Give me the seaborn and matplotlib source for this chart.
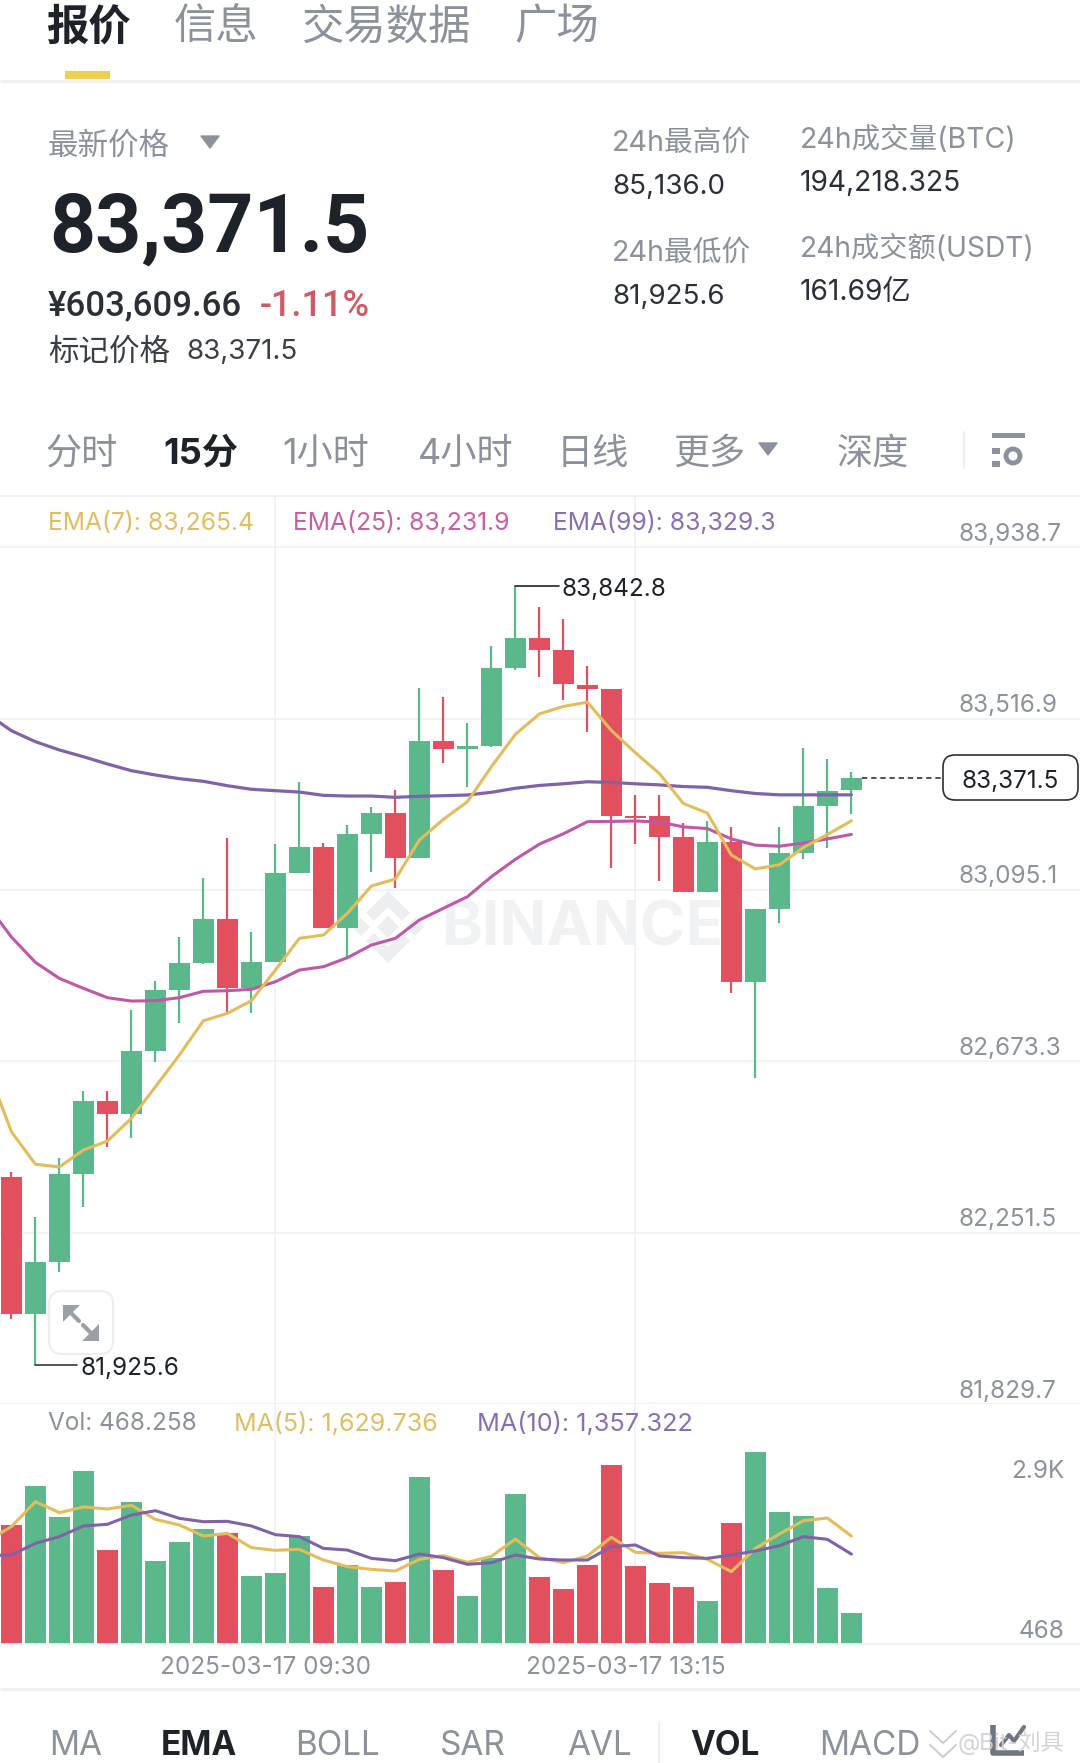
import matplotlib
matplotlib.use("Agg")
import matplotlib.pyplot as plt
from matplotlib.patches import FancyBboxPatch, Polygon, Circle, Rectangle
import numpy as np
import pandas as pd
import seaborn as sns

# candles, 15 min, oldest first
opens = [82388.4, 82050.4, 82179.9, 82396.5, 82575.5, 82542.8, 82699.4, 82848.8, 82916.1, 83023.6,
         82853.0, 82918.5, 83136.1, 83200.0, 83002.2, 83232.9, 83285.3, 83173.8, 83461.8, 83441.4,
         83450.6, 83641.6, 83715.4, 83686.0, 83599.6, 83589.8, 83277.5, 83276.0, 83225.0, 83089.3,
         83213.8, 82869.7, 83047.7, 83186.0, 83303.0, 83341.2]
closes = [82050.4, 82179.9, 82396.5, 82575.5, 82542.8, 82699.4, 82848.8, 82916.1, 83023.6, 82853.0,
          82918.5, 83136.1, 83200.0, 83002.2, 83232.9, 83285.3, 83173.8, 83461.8, 83441.4, 83449.0,
          83640.7, 83715.4, 83686.0, 83601.4, 83589.8, 83277.5, 83271.5, 83226.7, 83089.3, 83213.0,
          82869.7, 83047.7, 83185.0, 83301.3, 83339.5, 83371.5]
highs = [82401.5, 82290.7, 82434.5, 82599.4, 82599.4, 82799.6, 82871.7, 82980.1, 83124.6, 83222.3,
         82991.6, 83208.3, 83360.2, 83210.0, 83255.0, 83300.1, 83341.2, 83593.0, 83570.9, 83506.9,
         83695.7, 83842.8, 83791.2, 83761.7, 83646.5, 83589.8, 83328.4, 83328.4, 83259.0, 83264.8,
         83250.4, 83047.7, 83250.4, 83443.6, 83418.2, 83386.0]
lows = [82038.1, 81925.6, 82155.3, 82315.3, 82463.0, 82483.7, 82671.6, 82766.8, 82912.8, 82795.4,
        82791.5, 82918.5, 83136.1, 83002.2, 82930.8, 83138.9, 83099.2, 83173.8, 83407.0, 83349.3,
        83446.6, 83635.7, 83619.4, 83562.3, 83485.2, 83150.4, 83208.3, 83117.2, 83089.3, 83089.3,
        82840.9, 82631.6, 83012.9, 83171.6, 83199.6, 83282.6]
volumes = [1801, 2381, 1913, 2612, 1424, 2144, 1253, 1545, 1741, 1681,
           1022, 1068, 1635, 856, 1193, 856, 941, 2522, 1117, 725,
           1303, 2265, 1012, 831, 1197, 2703, 1178, 926, 861, 645,
           1823, 2899, 1993, 1933, 850, 468.258]

# the indicator lines start one candle before the screen edge
ema7 = [82656.8, 82500.0, 82419.9, 82413.2, 82454.9, 82477.0, 82532.9, 82610.7, 82688.8, 82773.2,
        82791.4, 82822.5, 82898.0, 82976.1, 82984.2, 83037.6, 83104.9, 83122.1, 83218.1, 83269.0,
        83312.4, 83398.6, 83478.3, 83528.5, 83547.0, 83557.4, 83487.7, 83432.8, 83381.8, 83308.0,
        83284.4, 83181.0, 83147.0, 83157.1, 83199.7, 83231.7, 83265.4]
ema25 = [83058.6, 82979.3, 82917.0, 82877.4, 82853.0, 82830.0, 82821.7, 82822.5, 82830.0, 82845.6,
         82847.1, 82850.5, 82869.2, 82898.0, 82906.2, 82928.3, 82959.6, 82976.1, 83021.2, 83050.0,
         83078.5, 83127.8, 83170.6, 83208.0, 83233.4, 83263.2, 83263.9, 83264.9, 83262.4, 83250.4,
         83246.2, 83220.8, 83205.5, 83202.8, 83210.7, 83220.8, 83231.9]
ema99 = [83528.3, 83487.2, 83460.2, 83439.8, 83423.2, 83405.3, 83388.8, 83378.2, 83369.1, 83362.6,
         83351.8, 83343.0, 83339.5, 83336.2, 83328.1, 83326.4, 83326.4, 83323.2, 83325.7, 83327.2,
         83328.9, 83335.6, 83345.5, 83352.4, 83356.6, 83361.5, 83359.8, 83356.6, 83353.8, 83349.7,
         83347.9, 83339.5, 83332.6, 83329.3, 83329.3, 83329.3, 83329.3]
ma5 = [1560, 1772, 2149, 1983, 2069, 2038, 2094, 1882, 1797, 1631,
       1671, 1455, 1414, 1429, 1268, 1168, 1127, 1102, 1278, 1334,
       1233, 1324, 1585, 1304, 1228, 1329, 1611, 1384, 1369, 1379,
       1278, 1092, 1444, 1661, 1862, 1902, 1629.736]
ma10 = [1334, 1344, 1520, 1621, 1782, 1807, 1948, 2013, 1897, 1847,
        1852, 1782, 1651, 1621, 1444, 1419, 1293, 1258, 1359, 1304,
        1203, 1228, 1344, 1283, 1268, 1268, 1470, 1495, 1329, 1304,
        1293, 1344, 1404, 1485, 1621, 1580, 1357.322]

price_ticks = [83938.7, 83516.9, 83095.1, 82673.3, 82251.5, 81829.7]
date_ticks = [11, 26]
date_labels = ["2025-03-17 09:30", "2025-03-17 13:15"]

GREEN = "#5AB88B"
RED = "#E2505F"
YELLOW = "#E3BC5C"
PINK = "#BE58A8"
PURPLE = "#7F62A8"
GRID = "#EFF0F2"
GRAY = "#8B929C"
DARK = "#1E2329"
ROBOTO = ['Roboto', 'Noto Sans CJK SC', 'DejaVu Sans']

sns.set_theme(style="white")
plt.rcParams['font.family'] = ['Inter', 'Noto Sans CJK SC', 'DejaVu Sans']

W, H = 1080, 1763
fig = plt.figure(figsize=(W / 100, H / 100), dpi=100, facecolor="white")


def px_axes(top, bottom, **kw):
    return fig.add_axes([0, 1 - bottom / H, 1, (bottom - top) / H], **kw)


back = fig.add_axes([0, 0, 1, 1], zorder=0)
ax = px_axes(496, 1404, zorder=1, facecolor="none")
ax_vol = px_axes(1404, 1644, zorder=1, facecolor="none")
ui = fig.add_axes([0, 0, 1, 1], zorder=2, facecolor="none")
for a in (back, ui):
    a.set_xlim(0, W)
    a.set_ylim(H, 0)
    a.axis("off")

idx = np.arange(len(opens))
line_idx = np.arange(-1, len(opens))
xlim = (-0.475, 44.525)
side = ["up" if c >= o else "down" for o, c in zip(opens, closes)]
colors = [GREEN if s == "up" else RED for s in side]

# watermark sits under everything
back.text(442, 929, "BINANCE", fontsize=44.5, fontweight="bold", color="#F1F2F3", va="center", ha="left")
lx, ly = 388, 927
for pts in [
    [(0, -11), (11, 0), (0, 11), (-11, 0)],
    [(0, -36), (22, -14), (14, -6), (0, -20), (-14, -6), (-22, -14)],
    [(0, 36), (22, 14), (14, 6), (0, 20), (-14, 6), (-22, 14)],
    [(-36, 0), (-27, -9), (-18, 0), (-27, 9)],
    [(36, 0), (27, -9), (18, 0), (27, 9)],
]:
    back.add_patch(Polygon([(lx + p[0], ly + p[1]) for p in pts], closed=True, fc="#EDEEEF", ec="none"))

# price panel
ax.vlines(idx, lows, highs, colors=colors, linewidth=1.6, zorder=2)
body_low = np.minimum(opens, closes)
body_h = np.abs(np.array(closes) - np.array(opens))
ax.bar(idx, body_h, bottom=body_low, width=0.86, color=colors, linewidth=0, zorder=2)
for vals, col, lw in [(ema99, PURPLE, 2.3), (ema25, PINK, 2.2), (ema7, YELLOW, 2.2)]:
    sns.lineplot(x=line_idx, y=vals, color=col, linewidth=lw, estimator=None, ax=ax, zorder=3)
ax.set_xlim(*xlim)
ax.set_ylim(81829.7, 84065.0)
ax.set_yticks(price_ticks)
ax.set_yticklabels([])
ax.set_xticks(date_ticks)
ax.set_xticklabels([])
ax.set_xlabel("")
ax.set_ylabel("")
ax.grid(True, color=GRID, linewidth=1.1)
ax.set_axisbelow(True)
ax.tick_params(length=0)
sns.despine(ax=ax, left=True, right=True, bottom=True, top=False)
ax.spines["top"].set_color(GRID)
ax.spines["top"].set_linewidth(1.3)

for v in price_ticks:
    ax.annotate(f"{v:,.1f}", xy=(1, v), xycoords=("axes fraction", "data"), xytext=(-122, 13),
                textcoords="offset pixels", ha="left", va="center", fontsize=17.5, color=GRAY)

# high / low markers
hi = int(np.argmax(highs))
lo = int(np.argmin(lows))
ax.plot([hi, hi + 1.8], [highs[hi]] * 2, color=DARK, lw=1.2, zorder=4)
ax.plot([lo, lo + 1.75], [lows[lo]] * 2, color="#333840", lw=1.2, zorder=4)
ax.annotate(f"{highs[hi]:,.1f}", xy=(hi + 1.8, highs[hi]), xytext=(3, -3), textcoords="offset pixels",
            va="center", fontsize=17.5, color=DARK)
ax.annotate(f"{lows[lo]:,.1f}", xy=(lo + 1.75, lows[lo]), xytext=(3, -3), textcoords="offset pixels",
            va="center", fontsize=17.5, color=DARK)

# last price tag
ax.plot([35.45, 38.75], [closes[-1]] * 2, color=DARK, lw=1.1, ls=(0, (3.5, 2.5)), zorder=4)
ui.add_patch(FancyBboxPatch((943 + 12, 755 + 12), 135 - 24, 45 - 24, boxstyle="round,pad=12,rounding_size=12",
                            fc="white", ec="#2B3038", lw=1.2))
ui.text(1010.5, 781, f"{closes[-1]:,.1f}", fontsize=17.5, color=DARK, ha="center", va="center")

# volume panel
vol_df = pd.DataFrame({"idx": idx, "vol": volumes, "side": side})
sns.barplot(data=vol_df, x="idx", y="vol", hue="side", palette={"up": GREEN, "down": RED}, dodge=False,
            native_scale=True, width=0.86, errorbar=None, legend=False, saturation=1, linewidth=0, ax=ax_vol, zorder=2)
sns.lineplot(x=line_idx, y=ma5, color=YELLOW, linewidth=2.2, estimator=None, ax=ax_vol, zorder=3)
sns.lineplot(x=line_idx, y=ma10, color=PURPLE, linewidth=2.2, estimator=None, ax=ax_vol, zorder=4)
ax_vol.set_xlim(*xlim)
ax_vol.set_ylim(0, 3624)
ax_vol.set_yticks([])
ax_vol.set_xticks(date_ticks)
ax_vol.set_xticklabels([])
# date labels sit a little left of their grid lines
for tick, lab in zip(date_ticks, date_labels):
    ax_vol.annotate(lab, xy=(tick, 0), xycoords=("data", "axes fraction"), xytext=(-10, -23),
                    textcoords="offset pixels", ha="center", va="center", fontsize=17.5, color=GRAY)
ax_vol.set_xlabel("")
ax_vol.set_ylabel("")
ax_vol.xaxis.grid(True, color=GRID, linewidth=1.1)
ax_vol.set_axisbelow(True)
ax_vol.tick_params(length=0)
sns.despine(ax=ax_vol, left=True, right=True, top=True, bottom=False)
ax_vol.spines["bottom"].set_color(GRID)
ax_vol.spines["bottom"].set_linewidth(1.3)


def t(x, y, s, size, color=GRAY, weight="normal", ha="left", family=None):
    ui.text(x, y, s, fontsize=size, color=color, fontweight=weight, ha=ha, va="center", family=family)


def hline(y, lw=2.0):
    ui.plot([0, W], [y, y], color=GRID, lw=lw, solid_capstyle="butt")


def tri(x, y, w=9, h=10):
    ui.add_patch(Polygon([(x - w, y - h / 2), (x + w, y - h / 2), (x, y + h / 2 + 2)], closed=True,
                         fc=GRAY, ec=GRAY, lw=1, joinstyle="round"))


# top tabs
t(46, 28, "报价", 30.5, DARK, "bold")
t(174, 28, "信息", 30.5)
t(302, 28, "交易数据", 30.5)
t(514, 28, "广场", 30.5)
ui.add_patch(Rectangle((65, 71), 45, 8, fc="#F0D050", ec="none"))
hline(81)

# price header
t(48, 146, "最新价格", 22)
tri(210, 141)
t(49, 230, "83,371.5", 58, DARK, "bold", family=ROBOTO)
t(48, 306, "¥603,609.66", 25, "#2B3038", "medium", family=ROBOTO)
t(260, 306, "-1.11%", 26, "#CF5A66", "medium", family=ROBOTO)
t(48, 352, "标记价格", 22, "#3A3F47")
t(186, 352, "83,371.5", 20, "#3A3F47")

t(612, 143, "24h最高价", 20.7)
t(612, 187, "85,136.0", 20, "#2B3038")
t(612, 253, "24h最低价", 20.7)
t(612, 297, "81,925.6", 20, "#2B3038")
t(800, 140, "24h成交量(BTC)", 20.5)
t(800, 183, "194,218.325", 20.3, "#2B3038")
t(800, 249, "24h成交额(USDT)", 20.3)
t(800, 292, "161.69亿", 20.3, "#2B3038")

# period row
t(45, 454, "分时", 26)
t(163, 454, "15分", 26, DARK, "bold")
t(282, 454, "1小时", 26)
t(418, 454, "4小时", 26)
t(557, 454, "日线", 26)
t(673, 454, "更多", 26)
tri(768, 448, 9, 10)
t(837, 454, "深度", 26)
ui.plot([964, 964], [432, 468], color=GRID, lw=1.5)
ui.add_patch(Rectangle((992, 433), 33, 5, fc=GRAY, ec="none"))
ui.add_patch(Rectangle((992, 448), 8, 6, fc=GRAY, ec="none"))
ui.add_patch(Rectangle((992, 461), 8, 6, fc=GRAY, ec="none"))
ui.add_patch(Circle((1013, 456), 7, fc="white", ec=GRAY, lw=3.5))

# legends
t(48, 523, "EMA(7): 83,265.4", 17.8, "#E0BD62")
t(293, 523, "EMA(25): 83,231.9", 17.8, "#C65EA8")
t(553, 523, "EMA(99): 83,329.3", 17.8, "#8A6FB0")
t(48, 1424, "Vol: 468.258", 17.5, GRAY)
t(234, 1424, "MA(5): 1,629.736", 18, "#E0BD62")
t(477, 1424, "MA(10): 1,357.322", 18.2, "#8A6FB0")
t(1011, 1472, "2.9K", 17.5)
t(1019, 1631, "468", 17.5)

# expand button
ui.add_patch(FancyBboxPatch((60, 1302), 42, 41, boxstyle="round,pad=11,rounding_size=13", fc="white", ec="#EDEEF0", lw=1.5))
ui.add_patch(Polygon([(63, 1305), (80, 1305), (63, 1322)], closed=True, fc="#9AA0A8", ec="none"))
ui.add_patch(Polygon([(99, 1341), (82, 1341), (99, 1324)], closed=True, fc="#9AA0A8", ec="none"))
ui.plot([68, 79], [1310, 1321], color="#9AA0A8", lw=3)
ui.plot([83, 94], [1325, 1336], color="#9AA0A8", lw=3)

# bottom tabs
hline(1689)
t(49, 1746, "MA", 24)
t(161, 1746, "EMA", 24, DARK, "bold")
t(295, 1746, "BOLL", 24)
t(440, 1746, "SAR", 24)
t(567, 1746, "AVL", 24)
ui.plot([659, 659], [1722, 1768], color=GRID, lw=1.5)
t(690, 1746, "VOL", 24, DARK, "bold")
t(819, 1746, "MACD", 24)

# corner icon with the reposter's mark on top
ui.plot([993, 993, 1024], [1725, 1753, 1753], color="#6F7680", lw=4, solid_capstyle="butt")
ui.plot([1001, 1009, 1014, 1024], [1745, 1735, 1741, 1727], color="#6F7680", lw=3)
for cx, cy in [(943, 1738), (943, 1752)]:
    ui.plot([cx - 13, cx, cx + 13], [cy - 7, cy + 5, cy - 7], color="#C9CCD0", lw=1.4)
ui.text(958, 1743, "@Bit-刘具", fontsize=16.5, color="#CFD0D3", ha="left", va="center", alpha=0.9)

fig.savefig("out.png", dpi=100)
